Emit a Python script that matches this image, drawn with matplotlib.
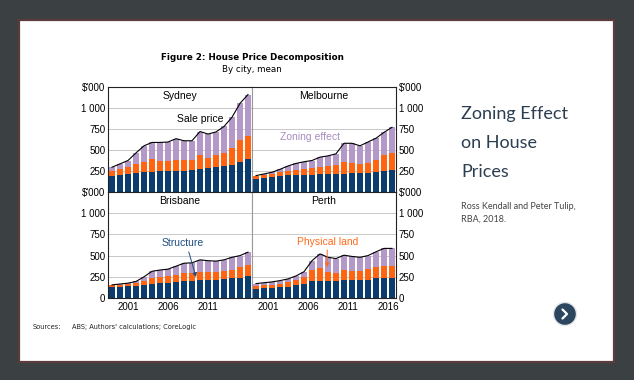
import matplotlib.pyplot as plt
import matplotlib.patches as patches
import matplotlib.transforms as mtransforms
from matplotlib.lines import Line2D

years = list(range(1999, 2017))

sydney_structure = [190, 205, 220, 225, 235, 240, 250, 250, 250, 255, 260, 275, 280, 295, 310, 320, 355, 390]
sydney_land = [60, 70, 80, 105, 125, 150, 125, 125, 130, 125, 120, 160, 130, 140, 150, 205, 265, 280]
sydney_zoning = [45, 60, 75, 135, 190, 200, 215, 220, 255, 230, 230, 285, 280, 280, 320, 365, 435, 490]

melbourne_structure = [160, 170, 180, 190, 200, 200, 205, 205, 210, 210, 215, 220, 225, 225, 230, 240, 250, 260]
melbourne_land = [25, 30, 40, 50, 55, 60, 70, 80, 85, 100, 110, 140, 125, 110, 120, 140, 190, 200]
melbourne_zoning = [10, 15, 15, 30, 55, 80, 85, 90, 120, 120, 130, 220, 230, 215, 245, 260, 270, 310]

brisbane_structure = [125, 135, 140, 145, 155, 170, 180, 180, 190, 200, 205, 215, 215, 215, 225, 230, 240, 260]
brisbane_land = [25, 20, 20, 30, 40, 70, 70, 75, 85, 90, 90, 95, 95, 90, 90, 100, 120, 125]
brisbane_zoning = [5, 10, 15, 20, 55, 75, 80, 85, 100, 120, 120, 140, 130, 130, 135, 150, 140, 155]

perth_structure = [110, 115, 120, 125, 135, 150, 170, 195, 205, 205, 200, 215, 215, 215, 215, 230, 240, 240]
perth_land = [35, 35, 35, 45, 50, 60, 80, 135, 145, 105, 100, 115, 100, 100, 125, 135, 135, 135]
perth_zoning = [25, 30, 35, 35, 40, 50, 60, 110, 170, 170, 165, 175, 175, 165, 160, 180, 210, 210]

y_ticks = [0, 250, 500, 750, 1000, 1250]
y_labels = ["0", "250", "500", "750", "1 000", "$'000"]
x_ticks_left = [2001, 2006, 2011]
x_ticks_right = [2001, 2006, 2011, 2016]

NAVY = "#0a3c6e"
ORANGE = "#ff6410"
PURPLE = "#b398c8"
TICK_FONT = "Liberation Sans"


def draw_city(ax, name, structure, land, zoning, side, bottom_row):
    zoning_base = [s + l for s, l in zip(structure, land)]
    total = [s + l + z for s, l, z in zip(structure, land, zoning)]
    ax.bar(years, structure, width=0.78, color=NAVY, zorder=2)
    ax.bar(years, land, bottom=structure, width=0.78, color=ORANGE, zorder=2)
    ax.bar(years, zoning, bottom=zoning_base, width=0.78, color=PURPLE, zorder=2)
    ax.plot(years, total, color="black", lw=0.8, zorder=3)

    ax.set_xlim(1998.5, 2016.5)
    ax.set_ylim(0, 1250)
    ax.grid(axis="y", color="#c8c8c8", lw=0.7, zorder=0)
    ax.set_axisbelow(True)
    ax.tick_params(length=0, labelsize=7, pad=2)

    ticks = y_ticks if bottom_row else y_ticks[1:]
    labels = y_labels if bottom_row else y_labels[1:]
    ax.set_yticks(ticks)
    ax.set_yticklabels(labels, fontfamily=TICK_FONT)
    if side == "right":
        ax.yaxis.tick_right()
    if bottom_row:
        xt = x_ticks_left if side == "left" else x_ticks_right
        ax.set_xticks(xt)
        ax.set_xticklabels([str(t) for t in xt], fontfamily=TICK_FONT)
        ax.tick_params(axis="x", pad=3)
        if side == "right":
            shift = mtransforms.ScaledTranslation(-4 / 100, 0, ax.figure.dpi_scale_trans)
            for lab in ax.get_xticklabels():
                lab.set_transform(lab.get_transform() + shift)
    else:
        ax.set_xticks([])

    for spine in ax.spines.values():
        spine.set_color("#222222")
        spine.set_linewidth(0.8)
    inner = "right" if side == "left" else "left"
    ax.spines[inner].set_color("#9a9a9a")

    ax.text(0.5, 0.915, name, transform=ax.transAxes, ha="center", va="center",
            fontsize=7.5, fontfamily=TICK_FONT)


fig = plt.figure(figsize=(6.34, 3.8), dpi=100, facecolor="#3b4043")

card = patches.Rectangle((19 / 634, 18 / 380), 595 / 634, 342 / 380, transform=fig.transFigure,
                         facecolor="white", edgecolor="#5c3b3d", lw=1.6, zorder=0)
fig.add_artist(card)

W, H = 634, 380


def panel(x0, y0, x1, y1):
    return fig.add_axes([x0 / W, 1 - y1 / H, (x1 - x0) / W, (y1 - y0) / H])


ax_syd = panel(108, 87, 252, 192)
ax_mel = panel(252, 87, 396, 192)
ax_bri = panel(108, 192, 252, 298)
ax_per = panel(252, 192, 396, 298)

draw_city(ax_syd, "Sydney", sydney_structure, sydney_land, sydney_zoning, "left", False)
draw_city(ax_mel, "Melbourne", melbourne_structure, melbourne_land, melbourne_zoning, "right", False)
draw_city(ax_bri, "Brisbane", brisbane_structure, brisbane_land, brisbane_zoning, "left", True)
draw_city(ax_per, "Perth", perth_structure, perth_land, perth_zoning, "right", True)

ax_syd.text(2010, 870, "Sale price", ha="center", va="center", fontsize=7.5, fontfamily=TICK_FONT, zorder=4)
ax_mel.text(2005.8, 655, "Zoning effect", ha="center", va="center", fontsize=7.5,
            fontfamily=TICK_FONT, color="#a88cc0", zorder=4)
ax_bri.text(2007.8, 643, "Structure", ha="center", va="center", fontsize=7.5,
            fontfamily=TICK_FONT, color="#1c4d80", zorder=4)
ax_bri.annotate("", xy=(2009.6, 215), xytext=(2008.5, 575),
                arrowprops=dict(arrowstyle="-|>", color="#1c4d80", lw=0.7, mutation_scale=6), zorder=4)
ax_per.text(2008.0, 666, "Physical land", ha="center", va="center", fontsize=7.5,
            fontfamily=TICK_FONT, color="#ff6a1a", zorder=4)
ax_per.annotate("", xy=(2007.9, 330), xytext=(2007.9, 600),
                arrowprops=dict(arrowstyle="-|>", color="#ff6a1a", lw=0.7, mutation_scale=6), zorder=4)

fig.text(252 / W, 1 - 57 / H, "Figure 2: House Price Decomposition", ha="center", va="center",
         fontsize=6.3, fontweight="bold", color="black")
fig.text(252 / W, 1 - 70 / H, "By city, mean", ha="center", va="center", fontsize=6.3, color="black")
fig.text(33 / W, 1 - 327 / H, "Sources:", ha="left", va="center", fontsize=4.8, color="#222222")
fig.text(72 / W, 1 - 327 / H, "ABS; Authors' calculations; CoreLogic", ha="left", va="center",
         fontsize=4.8, color="#222222")

title_color = "#2c3e50"
for i, line in enumerate(["Zoning Effect", "on House", "Prices"]):
    fig.text(461 / W, 1 - (119 + 29 * i) / H, line, ha="left", va="baseline", fontsize=13,
             fontfamily="Lato", color=title_color)
fig.text(461 / W, 1 - 209 / H, "Ross Kendall and Peter Tulip,", ha="left", va="baseline",
         fontsize=6.5, fontfamily="Lato", color="#444444")
fig.text(461 / W, 1 - 222 / H, "RBA, 2018.", ha="left", va="baseline",
         fontsize=6.5, fontfamily="Lato", color="#444444")

button = patches.Circle((5.65, 0.66), 0.115, transform=fig.dpi_scale_trans,
                        facecolor="#2b465e", edgecolor="#e4e7ea", lw=1.0)
fig.add_artist(button)
fig.add_artist(Line2D([5.625, 5.67, 5.625], [0.705, 0.66, 0.615], transform=fig.dpi_scale_trans,
                      color="white", lw=1.6, solid_capstyle="round", solid_joinstyle="round"))

fig.savefig("out.png", dpi=100, facecolor=fig.get_facecolor())
